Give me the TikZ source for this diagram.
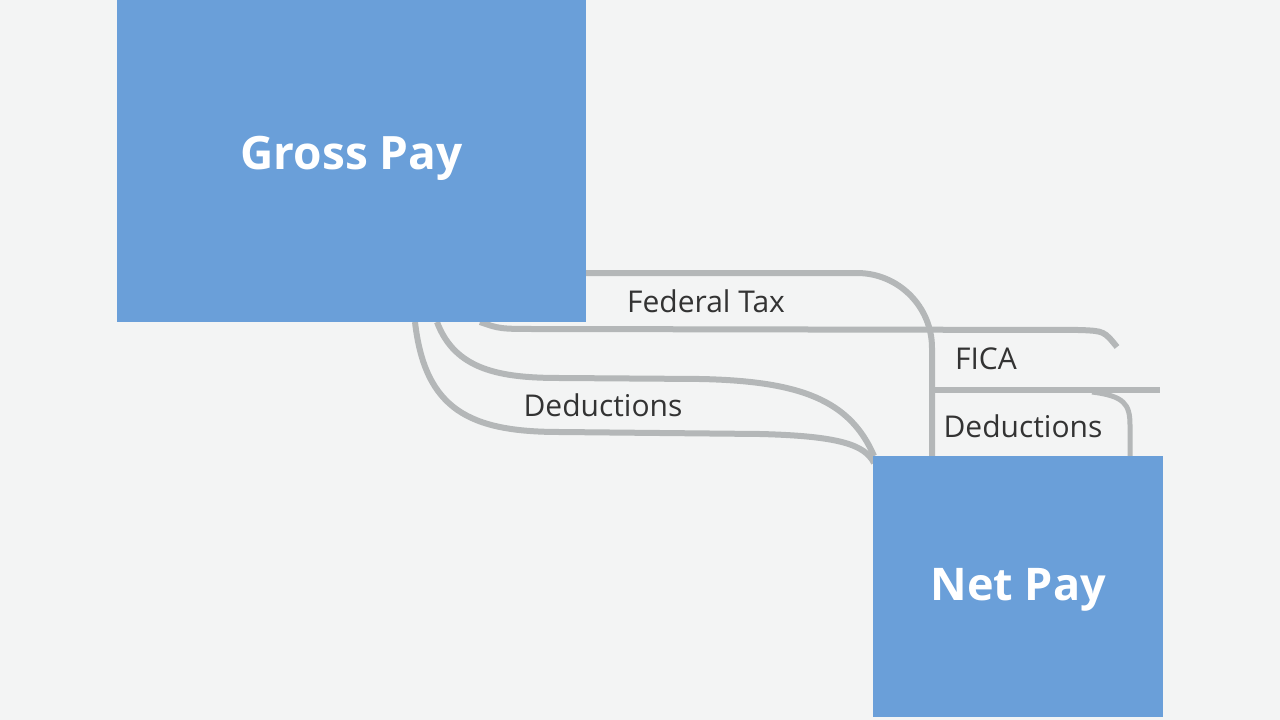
\documentclass[tikz,border=0pt]{standalone}
\usepackage{fontspec}
\setmainfont{Open Sans}
\usetikzlibrary{backgrounds}
\definecolor{paybg}{HTML}{F3F4F4}
\definecolor{payblue}{HTML}{6A9FD9}
\definecolor{payline}{HTML}{B4B7B8}
\definecolor{paytext}{HTML}{333333}
\tikzset{
  boxnode/.style={fill=payblue, text=white, inner sep=0pt, anchor=north west},
  band/.style={draw=payline, line width=6pt},
  lbl/.style={text=paytext, font=\fontsize{30}{34}\selectfont}
}

\begin{document}
\begin{tikzpicture}[x=1pt,y=-1pt]
  \node[boxnode, minimum width=469pt, minimum height=322pt, text depth=16pt,
        font=\bfseries\fontsize{46}{50}\selectfont] (gross) at (117,  0) {Gross Pay};
  \node[boxnode, minimum width=290pt, minimum height=261pt, text depth=4pt,
        font=\bfseries\fontsize{45}{50}\selectfont] (net)   at (873,456) {Net Pay};
  \coordinate (fedin)  at (586,273);
  \coordinate (fedout) at (932,456);
  \coordinate (ficain) at (480,322);
  \coordinate (ficaend) at (1117,347);
  \coordinate (ficalo) at (932,390);
  \coordinate (ficalend) at (1160,390);
  \coordinate (dedrin) at (1092,392);
  \coordinate (dedrout) at (1130,456);
  \coordinate (dedhi)  at (437,322);
  \coordinate (dedlo)  at (415,322);
  \coordinate (dedhiout) at (874,456);
  \coordinate (dedloout) at (874,463);
  \begin{scope}[on background layer]
    \fill[paybg] (0,0) rectangle (1280,720);
    \draw[band, rounded corners=75pt] (fedin) -- (932,273) -- (fedout);
    \draw[band] (ficain) .. controls (500,329) .. (540,329) -- (1080,330)
                .. controls (1104,331) .. (ficaend);
    \draw[band] (ficalo) -- (ficalend);
    \draw[band, line width=5pt] (dedrin) .. controls (1124,396) and (1130,404) .. (1130,425) -- (dedrout);
    \draw[band] (dedhi) .. controls (455,370) and (500,378) .. (560,378) -- (700,379)
                .. controls (800,381) and (850,400) .. (dedhiout);
    \draw[band] (dedlo) .. controls (425,410) and (470,432) .. (560,432) -- (760,434)
                .. controls (840,436) and (865,445) .. (dedloout);
  \end{scope}
  \node[lbl] (fedtax)   at ( 706,301) {Federal Tax};
  \node[lbl] (fica)     at ( 986,359) {FICA};
  \node[lbl] (dedright) at (1023,426) {Deductions};
  \node[lbl] (dedleft)  at ( 603,405) {Deductions};
\end{tikzpicture}
\end{document}
